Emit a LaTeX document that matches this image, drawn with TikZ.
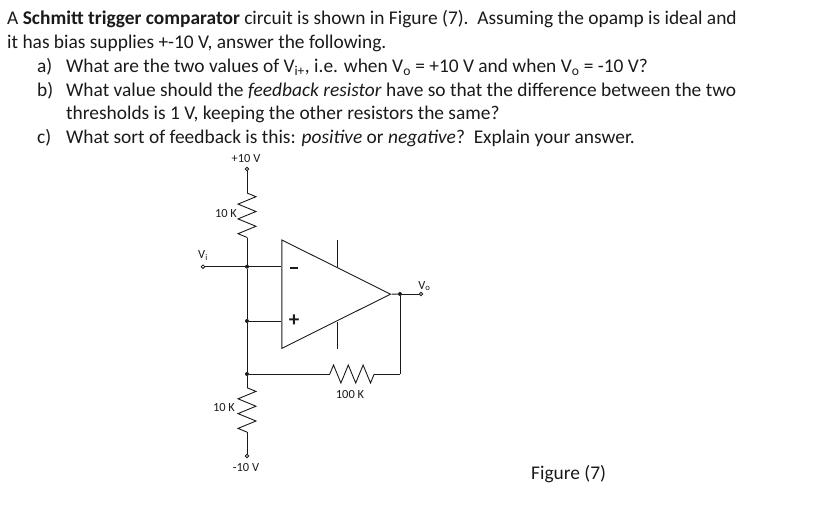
\documentclass[tikz,border=0pt]{standalone}
\usepackage{fontspec}
\setmainfont{Carlito}
\usepackage{xcolor}
\usetikzlibrary{shapes.geometric, positioning, decorations.pathmorphing}
\definecolor{inkgrey}{HTML}{1A1A1A}
\tikzstyle{qline} = [inner sep=0pt, text height=14pt, text depth=5pt, anchor=north west, text=inkgrey, font=\fontsize{19.4}{22}\selectfont]
\tikzstyle{tag} = [inner sep=0pt, text=inkgrey, font=\fontsize{12.4}{14}\selectfont]
\tikzstyle{wire} = [line width=0.9pt, draw=inkgrey]
\tikzstyle{terminal} = [circle, draw=inkgrey, fill=white, line width=0.8pt, inner sep=0pt, minimum size=3.6pt]
\tikzstyle{joint} = [circle, fill=inkgrey, inner sep=0pt, minimum size=4pt]
\tikzstyle{opampbox} = [isosceles triangle, isosceles triangle stretches, shape border rotate=0, draw=inkgrey, line width=0.9pt, inner sep=0pt, minimum width=108.4pt, minimum height=108.7pt]
\tikzstyle{resistor} = [wire, decorate, decoration={zigzag, amplitude=9pt, segment length=14.8pt}]

\begin{document}
\begin{tikzpicture}[x=1pt, y=-1pt]
    \useasboundingbox (0,0) rectangle (820,520);

    % question text
    \node (line1) [qline] at (7,10.5) {A \textbf{Schmitt trigger comparator} circuit is shown in Figure (7).\ \ Assuming the opamp is ideal and};
    \node (line2) [qline, below=4.4pt of line1.south west, anchor=north west] {it has bias supplies +-10 V, answer the following.};
    \node (linea) [qline, below=4.4pt of line2.south west, anchor=north west, xshift=30pt] {\makebox[29pt][l]{a)}What are the two values of V\textsubscript{i+}, i.e. when V\textsubscript{o} = +10 V and when V\textsubscript{o} = -10 V?};
    \node (lineb) [qline, below=4.4pt of linea.south west, anchor=north west] {\makebox[29pt][l]{b)}What value should the \textit{feedback resistor} have so that the difference between the two};
    \node (linebb) [qline, below=4.4pt of lineb.south west, anchor=north west, xshift=29pt] {thresholds is 1 V, keeping the other resistors the same?};
    \node (linec) [qline, below=4.4pt of linebb.south west, anchor=north west, xshift=-29pt] {\makebox[29pt][l]{c)}What sort of feedback is this: \textit{positive} or \textit{negative}?\ \ Explain your answer.};
    \node (figname) [qline] at (531,465.5) {Figure (7)};

    % opamp
    \node (opamp) [opampbox, anchor=apex] at (391.7,294.15) {};
    \node (minus) [inner sep=0pt, text=inkgrey] at (294,268) {\rule{8.5pt}{1.8pt}};
    \node (plus) [inner sep=0pt, text=inkgrey, font=\fontsize{21}{22}\selectfont] at (294,321) {\textbf{+}};
    \coordinate (inneg) at (opamp.left corner |- 0,266.7);
    \coordinate (inpos) at (opamp.left corner |- 0,321);
    \coordinate (stubtop) at (337.3,240);
    \coordinate (stubtopend) at (337.3,266.7);
    \coordinate (stubbot) at (337.3,349);
    \coordinate (stubbotend) at (337.3,321.7);

    % terminals and joints
    \node (vplus) [terminal] at (247,169) {};
    \node (vminus) [terminal] at (247,456) {};
    \node (vi) [terminal] at (203,266.7) {};
    \node (vo) [terminal] at (421,294) {};
    \node (jneg) [joint] at (247,266.7) {};
    \node (jpos) [joint] at (247,321) {};
    \node (jfb) [joint] at (247,374) {};
    \node (jout) [joint] at (400,294) {};

    % resistor ends
    \coordinate (rtopa) at (247,193);
    \coordinate (rtopb) at (247,238);
    \coordinate (rbota) at (247,387.7);
    \coordinate (rbotb) at (247,432.3);
    \coordinate (rfba) at (374.2,374);
    \coordinate (rfbb) at (329.7,374);
    \coordinate (corner) at (400,374);

    % labels
    \node (tagplus) [tag] at (246,158.5) {+10 V};
    \node (tagminus) [tag] at (246,467.5) {-10 V};
    \node (tagvi) [tag] at (203,255.5) {V\textsubscript{i}};
    \node (tagvo) [tag] at (424.5,286) {V\textsubscript{o}};
    \node (tagrtop) [tag] at (226,213.5) {10 K};
    \node (tagrbot) [tag] at (224,407.5) {10 K};
    \node (tagrfb) [tag] at (350,394.5) {100 K};

    \draw [wire] (vplus) -- (rtopa);
    \draw [resistor] (rtopa) -- (rtopb);
    \draw [wire] (rtopb) -- (jneg);
    \draw [wire] (jneg) -- (jpos);
    \draw [wire] (jpos) -- (jfb);
    \draw [wire] (jfb) -- (rbota);
    \draw [resistor] (rbota) -- (rbotb);
    \draw [wire] (rbotb) -- (vminus);
    \draw [wire] (vi) -- (jneg);
    \draw [wire] (jneg) -- (inneg);
    \draw [wire] (jpos) -- (inpos);
    \draw [wire] (stubtop) -- (stubtopend);
    \draw [wire] (stubbot) -- (stubbotend);
    \draw [wire] (opamp.apex) -- (jout);
    \draw [wire] (jout) -- (vo);
    \draw [wire] (jout) -- (corner);
    \draw [wire] (corner) -- (rfba);
    \draw [resistor] (rfba) -- (rfbb);
    \draw [wire] (rfbb) -- (jfb);
\end{tikzpicture}
\end{document}
